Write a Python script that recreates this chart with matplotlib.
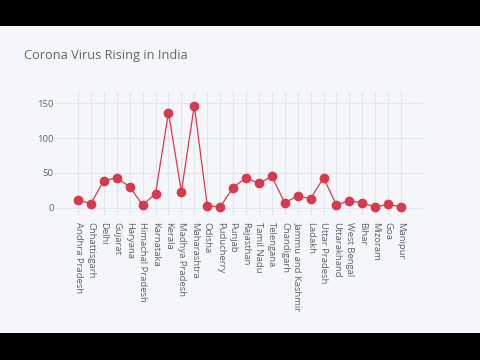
import matplotlib
matplotlib.use("Agg")
import matplotlib.pyplot as plt
from matplotlib.patches import Rectangle

states = ["Andhra Pradesh", "Chhattisgarh", "Delhi", "Gujarat", "Haryana",
          "Himachal Pradesh", "Karnataka", "Kerala", "Madhya Pradesh",
          "Maharashtra", "Odisha", "Puducherry", "Punjab", "Rajasthan",
          "Tamil Nadu", "Telengana", "Chandigarh", "Jammu and Kashmir",
          "Ladakh", "Uttar Pradesh", "Uttarakhand", "West Bengal", "Bihar",
          "Mizoram", "Goa", "Manipur"]
cases = [11, 6, 39, 43, 30, 4, 20, 137, 23, 147, 3, 1, 29, 43, 35, 45, 7,
         17, 13, 43, 4, 10, 7, 1, 5, 1]
yticks = [0, 50, 100, 150]
title = "Corona Virus Rising in India"

BG = "#F5F6F9"
GRID = "#E1E5ED"
TXT = "#5A6270"
RED = "#D63A4E"
W, H = 480, 360

fig = plt.figure(figsize=(4.8, 3.6), dpi=100, facecolor=BG)
for y0, h in [((H - 26) / H, 26 / H), (0, (H - 333) / H)]:
    fig.patches.append(Rectangle((0, y0), 1, h, transform=fig.transFigure,
                                 facecolor="black", edgecolor="none"))

ax = fig.add_axes([55 / W, (H - 215) / H, (423 - 55) / W, (215 - 92) / H])
ax.set_facecolor(BG)
x = list(range(len(states)))
ax.plot(x, cases, color=RED, lw=0.9, marker="o", ms=6.0,
        markerfacecolor=RED, markeredgecolor=RED, zorder=3)
ax.set_xlim(-1.78, 26.7)
ax.set_ylim(-10.5, 166.5)
ax.set_xticks(x)
ax.set_xticklabels(states, rotation=-90, fontsize=6.8, color=TXT,
                   family=["Open Sans", "DejaVu Sans"])
ax.set_yticks(yticks)
ax.set_yticklabels([str(v) for v in yticks], fontsize=6.8, color=TXT,
                   family=["Open Sans", "DejaVu Sans"])
ax.tick_params(axis="both", length=0)
ax.tick_params(axis="x", pad=5)
ax.tick_params(axis="y", pad=1)
ax.grid(True, color=GRID, lw=0.8)
ax.set_axisbelow(True)
for s in ax.spines.values():
    s.set_visible(False)

fig.text(24 / W, (H - 56) / H, title, fontsize=9.2, color="#5F6670",
         family=["Open Sans", "DejaVu Sans"], va="center", ha="left")

fig.savefig("out.png", dpi=100, facecolor=fig.get_facecolor())
